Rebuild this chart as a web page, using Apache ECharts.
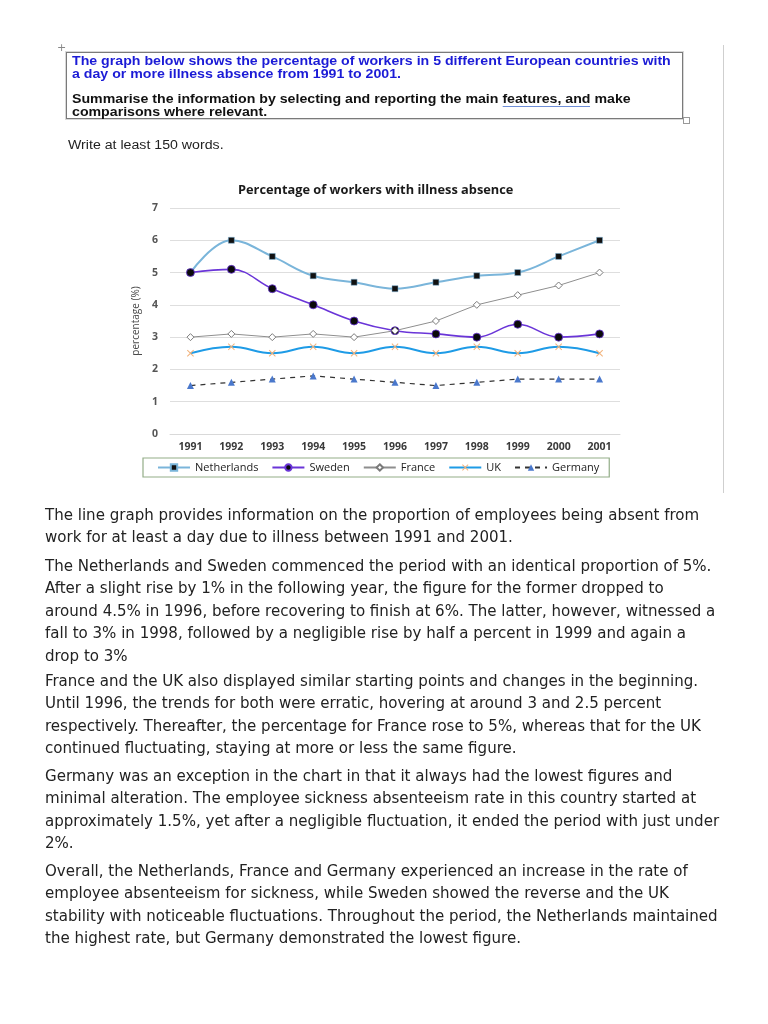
<!DOCTYPE html>
<html>
<head>
<meta charset="utf-8">
<script src="https://cdn.jsdelivr.net/npm/echarts@6/dist/echarts.min.js"></script>
<style>
html,body{margin:0;padding:0;background:#fff;width:768px;height:1024px;overflow:hidden;}
#chart{position:absolute;left:0;top:0;width:768px;height:1024px;}
.abs{position:absolute;white-space:nowrap;}
.task{font-family:"Liberation Sans",Arial,sans-serif;font-weight:bold;font-size:12px;line-height:12.5px;transform:scaleX(1.18);transform-origin:0 0;}
.para{font-family:"DejaVu Sans Condensed","DejaVu Sans",sans-serif;font-size:16px;line-height:22.4px;color:#222;left:45px;transform:scaleX(1.045);transform-origin:0 0;}
</style>
</head>
<body>
<div id="chart"></div>
<div class="abs" style="left:57px;top:41px;font-family:'DejaVu Sans';font-size:11px;color:#888;">+</div>
<div class="abs" style="left:66px;top:52px;width:615px;height:65px;border:1px solid #7a7a7a;box-shadow:0 0 0 1px #d8d8d8;"></div>
<div class="abs" style="left:683px;top:117px;width:5px;height:5px;border:1px solid #999;background:#fff;"></div>
<div class="abs task" style="left:72px;top:55px;color:#1b1bd6;">The graph below shows the percentage of workers in 5 different European countries with<br>a day or more illness absence from 1991 to 2001.</div>
<div class="abs task" style="left:72px;top:93px;color:#111;">Summarise the information by selecting and reporting the main <span style="border-bottom:1.5px solid #6f8fd8;">features, and</span> make<br>comparisons where relevant.</div>
<div class="abs" style="left:68px;top:138px;font-family:'Liberation Sans',Arial,sans-serif;font-size:12px;color:#222;transform:scaleX(1.18);transform-origin:0 0;">Write at least 150 words.</div>
<div class="abs" style="left:723px;top:45px;width:1px;height:448px;background:#cfcfcf;"></div>

<div class="abs para" style="top:504px;">The line graph provides information on the proportion of employees being absent from<br>work for at least a day due to illness between 1991 and 2001.</div>
<div class="abs para" style="top:555px;">The Netherlands and Sweden commenced the period with an identical proportion of 5%.<br>After a slight rise by 1% in the following year, the figure for the former dropped to<br>around 4.5% in 1996, before recovering to finish at 6%. The latter, however, witnessed a<br>fall to 3% in 1998, followed by a negligible rise by half a percent in 1999 and again a<br>drop to 3%</div>
<div class="abs para" style="top:670px;">France and the UK also displayed similar starting points and changes in the beginning.<br>Until 1996, the trends for both were erratic, hovering at around 3 and 2.5 percent<br>respectively. Thereafter, the percentage for France rose to 5%, whereas that for the UK<br>continued fluctuating, staying at more or less the same figure.</div>
<div class="abs para" style="top:765px;">Germany was an exception in the chart in that it always had the lowest figures and<br>minimal alteration. The employee sickness absenteeism rate in this country started at<br>approximately 1.5%, yet after a negligible fluctuation, it ended the period with just under<br>2%.</div>
<div class="abs para" style="top:860px;">Overall, the Netherlands, France and Germany experienced an increase in the rate of<br>employee absenteeism for sickness, while Sweden showed the reverse and the UK<br>stability with noticeable fluctuations. Throughout the period, the Netherlands maintained<br>the highest rate, but Germany demonstrated the lowest figure.</div>

<script>
var years = ['1991','1992','1993','1994','1995','1996','1997','1998','1999','2000','2001'];
var netherlands = [5, 6, 5.5, 4.9, 4.7, 4.5, 4.7, 4.9, 5, 5.5, 6];
var sweden = [5, 5.1, 4.5, 4, 3.5, 3.2, 3.1, 3, 3.4, 3, 3.1];
var france = [3, 3.1, 3, 3.1, 3, 3.2, 3.5, 4, 4.3, 4.6, 5];
var uk = [2.5, 2.7, 2.5, 2.7, 2.5, 2.7, 2.5, 2.7, 2.5, 2.7, 2.5];
var germany = [1.5, 1.6, 1.7, 1.8, 1.7, 1.6, 1.5, 1.6, 1.7, 1.7, 1.7];

var xShape = 'path://M0,1L1,0L5,4L9,0L10,1L6,5L10,9L9,10L5,6L1,10L0,9L4,5Z';
var chart = echarts.init(document.getElementById('chart'), null, {renderer:'canvas'});
var f = '"Open Sans", "Liberation Sans", sans-serif';
chart.setOption({
  backgroundColor: 'transparent',
  animation: false,
  title: {
    text: 'Percentage of workers with illness absence',
    left: 233, top: 179,
    textStyle: {fontFamily: f, fontSize: 12.8, fontWeight: 'bold', color: '#1a1a1a'}
  },
  grid: {left: 170, right: 148, top: 208, bottom: 590, containLabel: false},
  xAxis: {
    type: 'category', data: years, boundaryGap: true,
    axisLine: {show: true, lineStyle: {color: '#d9d9d9'}},
    axisTick: {show: false},
    axisLabel: {fontFamily: f, fontSize: 10.5, fontWeight: 'bold', color: '#3a3a3a', margin: 8}
  },
  yAxis: {
    type: 'value', min: 0, max: 7, interval: 1,
    name: 'percentage (%)', nameLocation: 'middle', nameGap: 18, nameRotate: 90,
    nameTextStyle: {fontFamily: f, fontSize: 10, color: '#4a4a4a'},
    axisLine: {show: false}, axisTick: {show: false},
    axisLabel: {fontFamily: f, fontSize: 10.5, fontWeight: 'bold', color: '#555', margin: 12},
    splitLine: {lineStyle: {color: '#dedede'}}
  },
  legend: {
    left: 143, top: 458, padding: [4, 10, 4, 14],
    itemWidth: 32, itemHeight: 8, itemGap: 13,
    borderColor: '#93ad88', borderWidth: 1.2,
    textStyle: {fontFamily: f, fontSize: 11, color: '#222'},
    data: ['Netherlands','Sweden','France','UK','Germany']
  },
  series: [
    {name:'Netherlands', type:'line', data: netherlands, smooth: 0.4,
     symbol:'rect', symbolSize: 6,
     lineStyle:{color:'#7ab5da', width:2}, itemStyle:{color:'#111', borderColor:'#7ab5da', borderWidth:0.5}},
    {name:'Sweden', type:'line', data: sweden, smooth: 0.4,
     symbol:'circle', symbolSize: 8,
     lineStyle:{color:'#6a35d8', width:1.6}, itemStyle:{color:'#0a0a0a', borderColor:'#6a35d8', borderWidth:0.8}},
    {name:'France', type:'line', data: france, smooth: false,
     symbol:'diamond', symbolSize: 7,
     lineStyle:{color:'#8e8e8e', width:1}, itemStyle:{color:'#fff', borderColor:'#7a7a7a', borderWidth:1}},
    {name:'UK', type:'line', data: uk, smooth: 0.4,
     symbol: xShape, symbolSize: 7,
     lineStyle:{color:'#1e9be6', width:2}, itemStyle:{color:'#f2b27a'}},
    {name:'Germany', type:'line', data: germany, smooth: false,
     symbol:'triangle', symbolSize: 7,
     lineStyle:{color:'#333', width:1.2, type:[5,5]}, itemStyle:{color:'#4a78cc'}}
  ]
});
</script>
</body>
</html>
